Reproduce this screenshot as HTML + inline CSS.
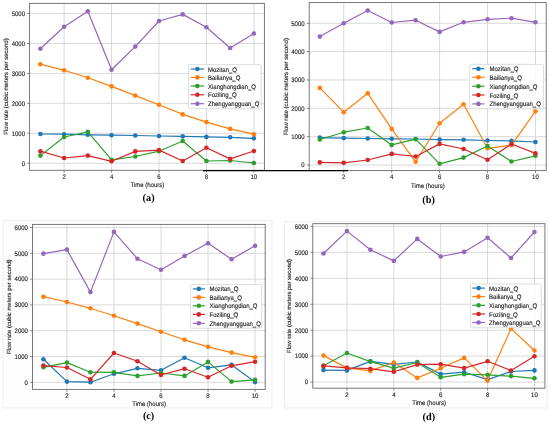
<!DOCTYPE html>
<html><head><meta charset="utf-8"><style>
html,body{margin:0;padding:0;background:#fff;}
svg{display:block;will-change:transform;filter:blur(0.25px);}
text{text-rendering:geometricPrecision;font-family:"Liberation Sans",sans-serif;font-size:6.0px;fill:#1c1c1c;stroke:#1c1c1c;stroke-width:0.12px;}
text.cap{font-family:"Liberation Serif",serif;font-weight:bold;font-size:10.3px;fill:#000;stroke:none;}
</style></head><body>
<svg width="550" height="424" viewBox="0 0 550 424">
<rect width="550" height="424" fill="#fff"/>
<rect x="3" y="220.5" width="269" height="187.5" fill="#fdfdfd" stroke="#ececec" stroke-width="0.8"/>
<rect x="284.5" y="221.8" width="262.7" height="186.2" fill="#fdfdfd" stroke="#ececec" stroke-width="0.8"/>
<rect x="29.6" y="3.4" width="234.8" height="166.9" fill="#fff"/>
<line x1="64.12" y1="3.4" x2="64.12" y2="170.3" stroke="#cfcfcf" stroke-width="0.8"/>
<line x1="111.56" y1="3.4" x2="111.56" y2="170.3" stroke="#cfcfcf" stroke-width="0.8"/>
<line x1="159" y1="3.4" x2="159" y2="170.3" stroke="#cfcfcf" stroke-width="0.8"/>
<line x1="206.44" y1="3.4" x2="206.44" y2="170.3" stroke="#cfcfcf" stroke-width="0.8"/>
<line x1="253.88" y1="3.4" x2="253.88" y2="170.3" stroke="#cfcfcf" stroke-width="0.8"/>
<line x1="29.6" y1="163.2" x2="264.4" y2="163.2" stroke="#cfcfcf" stroke-width="0.8"/>
<line x1="29.6" y1="133.27" x2="264.4" y2="133.27" stroke="#cfcfcf" stroke-width="0.8"/>
<line x1="29.6" y1="103.34" x2="264.4" y2="103.34" stroke="#cfcfcf" stroke-width="0.8"/>
<line x1="29.6" y1="73.41" x2="264.4" y2="73.41" stroke="#cfcfcf" stroke-width="0.8"/>
<line x1="29.6" y1="43.48" x2="264.4" y2="43.48" stroke="#cfcfcf" stroke-width="0.8"/>
<line x1="29.6" y1="13.55" x2="264.4" y2="13.55" stroke="#cfcfcf" stroke-width="0.8"/>
<polyline points="40.4,134 64.12,134.2 87.84,134.8 111.56,135.2 135.28,135.5 159,136 182.72,136.4 206.44,136.9 230.16,137.3 253.88,138.3" fill="none" stroke="#1f77b4" stroke-width="1.2" stroke-linejoin="round"/>
<circle cx="40.4" cy="134" r="2.3" fill="#1f77b4"/>
<circle cx="64.12" cy="134.2" r="2.3" fill="#1f77b4"/>
<circle cx="87.84" cy="134.8" r="2.3" fill="#1f77b4"/>
<circle cx="111.56" cy="135.2" r="2.3" fill="#1f77b4"/>
<circle cx="135.28" cy="135.5" r="2.3" fill="#1f77b4"/>
<circle cx="159" cy="136" r="2.3" fill="#1f77b4"/>
<circle cx="182.72" cy="136.4" r="2.3" fill="#1f77b4"/>
<circle cx="206.44" cy="136.9" r="2.3" fill="#1f77b4"/>
<circle cx="230.16" cy="137.3" r="2.3" fill="#1f77b4"/>
<circle cx="253.88" cy="138.3" r="2.3" fill="#1f77b4"/>
<polyline points="40.4,64.2 64.12,70.3 87.84,77.8 111.56,86.4 135.28,95.6 159,104.8 182.72,114.4 206.44,122.1 230.16,128.9 253.88,134.2" fill="none" stroke="#ff7f0e" stroke-width="1.2" stroke-linejoin="round"/>
<circle cx="40.4" cy="64.2" r="2.3" fill="#ff7f0e"/>
<circle cx="64.12" cy="70.3" r="2.3" fill="#ff7f0e"/>
<circle cx="87.84" cy="77.8" r="2.3" fill="#ff7f0e"/>
<circle cx="111.56" cy="86.4" r="2.3" fill="#ff7f0e"/>
<circle cx="135.28" cy="95.6" r="2.3" fill="#ff7f0e"/>
<circle cx="159" cy="104.8" r="2.3" fill="#ff7f0e"/>
<circle cx="182.72" cy="114.4" r="2.3" fill="#ff7f0e"/>
<circle cx="206.44" cy="122.1" r="2.3" fill="#ff7f0e"/>
<circle cx="230.16" cy="128.9" r="2.3" fill="#ff7f0e"/>
<circle cx="253.88" cy="134.2" r="2.3" fill="#ff7f0e"/>
<polyline points="40.4,155.6 64.12,137 87.84,131.8 111.56,159.9 135.28,156.5 159,151.2 182.72,141 206.44,161 230.16,160.5 253.88,163" fill="none" stroke="#2ca02c" stroke-width="1.2" stroke-linejoin="round"/>
<circle cx="40.4" cy="155.6" r="2.3" fill="#2ca02c"/>
<circle cx="64.12" cy="137" r="2.3" fill="#2ca02c"/>
<circle cx="87.84" cy="131.8" r="2.3" fill="#2ca02c"/>
<circle cx="111.56" cy="159.9" r="2.3" fill="#2ca02c"/>
<circle cx="135.28" cy="156.5" r="2.3" fill="#2ca02c"/>
<circle cx="159" cy="151.2" r="2.3" fill="#2ca02c"/>
<circle cx="182.72" cy="141" r="2.3" fill="#2ca02c"/>
<circle cx="206.44" cy="161" r="2.3" fill="#2ca02c"/>
<circle cx="230.16" cy="160.5" r="2.3" fill="#2ca02c"/>
<circle cx="253.88" cy="163" r="2.3" fill="#2ca02c"/>
<polyline points="40.4,151.2 64.12,158 87.84,155.6 111.56,161.3 135.28,151.4 159,150.1 182.72,161 206.44,147.8 230.16,158.9 253.88,151" fill="none" stroke="#d62728" stroke-width="1.2" stroke-linejoin="round"/>
<circle cx="40.4" cy="151.2" r="2.3" fill="#d62728"/>
<circle cx="64.12" cy="158" r="2.3" fill="#d62728"/>
<circle cx="87.84" cy="155.6" r="2.3" fill="#d62728"/>
<circle cx="111.56" cy="161.3" r="2.3" fill="#d62728"/>
<circle cx="135.28" cy="151.4" r="2.3" fill="#d62728"/>
<circle cx="159" cy="150.1" r="2.3" fill="#d62728"/>
<circle cx="182.72" cy="161" r="2.3" fill="#d62728"/>
<circle cx="206.44" cy="147.8" r="2.3" fill="#d62728"/>
<circle cx="230.16" cy="158.9" r="2.3" fill="#d62728"/>
<circle cx="253.88" cy="151" r="2.3" fill="#d62728"/>
<polyline points="40.4,48.7 64.12,26.7 87.84,11.2 111.56,69.7 135.28,46.6 159,21 182.72,14.4 206.44,27.3 230.16,48 253.88,33.5" fill="none" stroke="#9467bd" stroke-width="1.2" stroke-linejoin="round"/>
<circle cx="40.4" cy="48.7" r="2.3" fill="#9467bd"/>
<circle cx="64.12" cy="26.7" r="2.3" fill="#9467bd"/>
<circle cx="87.84" cy="11.2" r="2.3" fill="#9467bd"/>
<circle cx="111.56" cy="69.7" r="2.3" fill="#9467bd"/>
<circle cx="135.28" cy="46.6" r="2.3" fill="#9467bd"/>
<circle cx="159" cy="21" r="2.3" fill="#9467bd"/>
<circle cx="182.72" cy="14.4" r="2.3" fill="#9467bd"/>
<circle cx="206.44" cy="27.3" r="2.3" fill="#9467bd"/>
<circle cx="230.16" cy="48" r="2.3" fill="#9467bd"/>
<circle cx="253.88" cy="33.5" r="2.3" fill="#9467bd"/>
<rect x="29.6" y="3.4" width="234.8" height="166.9" fill="none" stroke="#6a6a6a" stroke-width="0.9"/>
<line x1="27.2" y1="163.2" x2="29.6" y2="163.2" stroke="#6a6a6a" stroke-width="0.8"/>
<text transform="translate(25,165.5) scale(1,1.1)" text-anchor="end">0</text>
<line x1="27.2" y1="133.27" x2="29.6" y2="133.27" stroke="#6a6a6a" stroke-width="0.8"/>
<text transform="translate(25,135.57) scale(1,1.1)" text-anchor="end">1000</text>
<line x1="27.2" y1="103.34" x2="29.6" y2="103.34" stroke="#6a6a6a" stroke-width="0.8"/>
<text transform="translate(25,105.64) scale(1,1.1)" text-anchor="end">2000</text>
<line x1="27.2" y1="73.41" x2="29.6" y2="73.41" stroke="#6a6a6a" stroke-width="0.8"/>
<text transform="translate(25,75.71) scale(1,1.1)" text-anchor="end">3000</text>
<line x1="27.2" y1="43.48" x2="29.6" y2="43.48" stroke="#6a6a6a" stroke-width="0.8"/>
<text transform="translate(25,45.78) scale(1,1.1)" text-anchor="end">4000</text>
<line x1="27.2" y1="13.55" x2="29.6" y2="13.55" stroke="#6a6a6a" stroke-width="0.8"/>
<text transform="translate(25,15.85) scale(1,1.1)" text-anchor="end">5000</text>
<line x1="64.12" y1="170.3" x2="64.12" y2="172.7" stroke="#6a6a6a" stroke-width="0.8"/>
<text transform="translate(64.12,178.9) scale(1,1.1)" text-anchor="middle">2</text>
<line x1="111.56" y1="170.3" x2="111.56" y2="172.7" stroke="#6a6a6a" stroke-width="0.8"/>
<text transform="translate(111.56,178.9) scale(1,1.1)" text-anchor="middle">4</text>
<line x1="159" y1="170.3" x2="159" y2="172.7" stroke="#6a6a6a" stroke-width="0.8"/>
<text transform="translate(159,178.9) scale(1,1.1)" text-anchor="middle">6</text>
<line x1="206.44" y1="170.3" x2="206.44" y2="172.7" stroke="#6a6a6a" stroke-width="0.8"/>
<text transform="translate(206.44,178.9) scale(1,1.1)" text-anchor="middle">8</text>
<line x1="253.88" y1="170.3" x2="253.88" y2="172.7" stroke="#6a6a6a" stroke-width="0.8"/>
<text transform="translate(253.88,178.9) scale(1,1.1)" text-anchor="middle">10</text>
<rect x="188.6" y="64.6" width="72.6" height="44.1" rx="1.2" fill="#fff" fill-opacity="0.85" stroke="#d0d0d0" stroke-width="0.7"/>
<line x1="190.7" y1="69" x2="204" y2="69" stroke="#1f77b4" stroke-width="1.2"/>
<circle cx="197.35" cy="69" r="2.3" fill="#1f77b4"/>
<text transform="translate(208,71.5) scale(1,1.1)">Mozitan_Q</text>
<line x1="190.7" y1="77.4" x2="204" y2="77.4" stroke="#ff7f0e" stroke-width="1.2"/>
<circle cx="197.35" cy="77.4" r="2.3" fill="#ff7f0e"/>
<text transform="translate(208,79.9) scale(1,1.1)">Bailianya_Q</text>
<line x1="190.7" y1="86" x2="204" y2="86" stroke="#2ca02c" stroke-width="1.2"/>
<circle cx="197.35" cy="86" r="2.3" fill="#2ca02c"/>
<text transform="translate(208,88.5) scale(1,1.1)">Xianghongdian_Q</text>
<line x1="190.7" y1="94.8" x2="204" y2="94.8" stroke="#d62728" stroke-width="1.2"/>
<circle cx="197.35" cy="94.8" r="2.3" fill="#d62728"/>
<text transform="translate(208,97.3) scale(1,1.1)">Foziling_Q</text>
<line x1="190.7" y1="103.7" x2="204" y2="103.7" stroke="#9467bd" stroke-width="1.2"/>
<circle cx="197.35" cy="103.7" r="2.3" fill="#9467bd"/>
<text transform="translate(208,106.2) scale(1,1.1)">Zhengyangguan_Q</text>
<text transform="translate(147.35,186.7) scale(1,1.1)" text-anchor="middle">Time (hours)</text>
<text x="148.6" y="200.6" text-anchor="middle" class="cap">(a)</text>
<text transform="translate(7.8,86.55) rotate(-90)" text-anchor="middle" style="font-size:6.05px">Flow rate (cubic meters per second)</text>
<rect x="309.2" y="2.6" width="237" height="168" fill="#fff"/>
<line x1="343.76" y1="2.6" x2="343.76" y2="170.6" stroke="#cfcfcf" stroke-width="0.8"/>
<line x1="391.68" y1="2.6" x2="391.68" y2="170.6" stroke="#cfcfcf" stroke-width="0.8"/>
<line x1="439.6" y1="2.6" x2="439.6" y2="170.6" stroke="#cfcfcf" stroke-width="0.8"/>
<line x1="487.52" y1="2.6" x2="487.52" y2="170.6" stroke="#cfcfcf" stroke-width="0.8"/>
<line x1="535.44" y1="2.6" x2="535.44" y2="170.6" stroke="#cfcfcf" stroke-width="0.8"/>
<line x1="309.2" y1="165" x2="546.2" y2="165" stroke="#cfcfcf" stroke-width="0.8"/>
<line x1="309.2" y1="136.66" x2="546.2" y2="136.66" stroke="#cfcfcf" stroke-width="0.8"/>
<line x1="309.2" y1="108.32" x2="546.2" y2="108.32" stroke="#cfcfcf" stroke-width="0.8"/>
<line x1="309.2" y1="79.98" x2="546.2" y2="79.98" stroke="#cfcfcf" stroke-width="0.8"/>
<line x1="309.2" y1="51.64" x2="546.2" y2="51.64" stroke="#cfcfcf" stroke-width="0.8"/>
<line x1="309.2" y1="23.3" x2="546.2" y2="23.3" stroke="#cfcfcf" stroke-width="0.8"/>
<polyline points="319.8,137.6 343.76,138.1 367.72,138.5 391.68,138.8 415.64,139 439.6,139.6 463.56,139.8 487.52,140.5 511.48,140.9 535.44,142" fill="none" stroke="#1f77b4" stroke-width="1.2" stroke-linejoin="round"/>
<circle cx="319.8" cy="137.6" r="2.3" fill="#1f77b4"/>
<circle cx="343.76" cy="138.1" r="2.3" fill="#1f77b4"/>
<circle cx="367.72" cy="138.5" r="2.3" fill="#1f77b4"/>
<circle cx="391.68" cy="138.8" r="2.3" fill="#1f77b4"/>
<circle cx="415.64" cy="139" r="2.3" fill="#1f77b4"/>
<circle cx="439.6" cy="139.6" r="2.3" fill="#1f77b4"/>
<circle cx="463.56" cy="139.8" r="2.3" fill="#1f77b4"/>
<circle cx="487.52" cy="140.5" r="2.3" fill="#1f77b4"/>
<circle cx="511.48" cy="140.9" r="2.3" fill="#1f77b4"/>
<circle cx="535.44" cy="142" r="2.3" fill="#1f77b4"/>
<polyline points="319.8,87.9 343.76,112.2 367.72,93.3 391.68,128.9 415.64,161.8 439.6,123.3 463.56,104.2 487.52,148.3 511.48,145.2 535.44,111.3" fill="none" stroke="#ff7f0e" stroke-width="1.2" stroke-linejoin="round"/>
<circle cx="319.8" cy="87.9" r="2.3" fill="#ff7f0e"/>
<circle cx="343.76" cy="112.2" r="2.3" fill="#ff7f0e"/>
<circle cx="367.72" cy="93.3" r="2.3" fill="#ff7f0e"/>
<circle cx="391.68" cy="128.9" r="2.3" fill="#ff7f0e"/>
<circle cx="415.64" cy="161.8" r="2.3" fill="#ff7f0e"/>
<circle cx="439.6" cy="123.3" r="2.3" fill="#ff7f0e"/>
<circle cx="463.56" cy="104.2" r="2.3" fill="#ff7f0e"/>
<circle cx="487.52" cy="148.3" r="2.3" fill="#ff7f0e"/>
<circle cx="511.48" cy="145.2" r="2.3" fill="#ff7f0e"/>
<circle cx="535.44" cy="111.3" r="2.3" fill="#ff7f0e"/>
<polyline points="319.8,139.5 343.76,132.2 367.72,128 391.68,144.9 415.64,139.2 439.6,163.8 463.56,157.6 487.52,146 511.48,161.5 535.44,155.8" fill="none" stroke="#2ca02c" stroke-width="1.2" stroke-linejoin="round"/>
<circle cx="319.8" cy="139.5" r="2.3" fill="#2ca02c"/>
<circle cx="343.76" cy="132.2" r="2.3" fill="#2ca02c"/>
<circle cx="367.72" cy="128" r="2.3" fill="#2ca02c"/>
<circle cx="391.68" cy="144.9" r="2.3" fill="#2ca02c"/>
<circle cx="415.64" cy="139.2" r="2.3" fill="#2ca02c"/>
<circle cx="439.6" cy="163.8" r="2.3" fill="#2ca02c"/>
<circle cx="463.56" cy="157.6" r="2.3" fill="#2ca02c"/>
<circle cx="487.52" cy="146" r="2.3" fill="#2ca02c"/>
<circle cx="511.48" cy="161.5" r="2.3" fill="#2ca02c"/>
<circle cx="535.44" cy="155.8" r="2.3" fill="#2ca02c"/>
<polyline points="319.8,162.4 343.76,162.8 367.72,160 391.68,153.9 415.64,156.5 439.6,143.9 463.56,149 487.52,159.8 511.48,144 535.44,153.4" fill="none" stroke="#d62728" stroke-width="1.2" stroke-linejoin="round"/>
<circle cx="319.8" cy="162.4" r="2.3" fill="#d62728"/>
<circle cx="343.76" cy="162.8" r="2.3" fill="#d62728"/>
<circle cx="367.72" cy="160" r="2.3" fill="#d62728"/>
<circle cx="391.68" cy="153.9" r="2.3" fill="#d62728"/>
<circle cx="415.64" cy="156.5" r="2.3" fill="#d62728"/>
<circle cx="439.6" cy="143.9" r="2.3" fill="#d62728"/>
<circle cx="463.56" cy="149" r="2.3" fill="#d62728"/>
<circle cx="487.52" cy="159.8" r="2.3" fill="#d62728"/>
<circle cx="511.48" cy="144" r="2.3" fill="#d62728"/>
<circle cx="535.44" cy="153.4" r="2.3" fill="#d62728"/>
<polyline points="319.8,36.6 343.76,23.3 367.72,10.5 391.68,22.5 415.64,20.2 439.6,31.9 463.56,22.3 487.52,19.3 511.48,18.2 535.44,22.3" fill="none" stroke="#9467bd" stroke-width="1.2" stroke-linejoin="round"/>
<circle cx="319.8" cy="36.6" r="2.3" fill="#9467bd"/>
<circle cx="343.76" cy="23.3" r="2.3" fill="#9467bd"/>
<circle cx="367.72" cy="10.5" r="2.3" fill="#9467bd"/>
<circle cx="391.68" cy="22.5" r="2.3" fill="#9467bd"/>
<circle cx="415.64" cy="20.2" r="2.3" fill="#9467bd"/>
<circle cx="439.6" cy="31.9" r="2.3" fill="#9467bd"/>
<circle cx="463.56" cy="22.3" r="2.3" fill="#9467bd"/>
<circle cx="487.52" cy="19.3" r="2.3" fill="#9467bd"/>
<circle cx="511.48" cy="18.2" r="2.3" fill="#9467bd"/>
<circle cx="535.44" cy="22.3" r="2.3" fill="#9467bd"/>
<rect x="309.2" y="2.6" width="237" height="168" fill="none" stroke="#6a6a6a" stroke-width="0.9"/>
<line x1="306.8" y1="165" x2="309.2" y2="165" stroke="#6a6a6a" stroke-width="0.8"/>
<text transform="translate(304.6,167.3) scale(1,1.1)" text-anchor="end">0</text>
<line x1="306.8" y1="136.66" x2="309.2" y2="136.66" stroke="#6a6a6a" stroke-width="0.8"/>
<text transform="translate(304.6,138.96) scale(1,1.1)" text-anchor="end">1000</text>
<line x1="306.8" y1="108.32" x2="309.2" y2="108.32" stroke="#6a6a6a" stroke-width="0.8"/>
<text transform="translate(304.6,110.62) scale(1,1.1)" text-anchor="end">2000</text>
<line x1="306.8" y1="79.98" x2="309.2" y2="79.98" stroke="#6a6a6a" stroke-width="0.8"/>
<text transform="translate(304.6,82.28) scale(1,1.1)" text-anchor="end">3000</text>
<line x1="306.8" y1="51.64" x2="309.2" y2="51.64" stroke="#6a6a6a" stroke-width="0.8"/>
<text transform="translate(304.6,53.94) scale(1,1.1)" text-anchor="end">4000</text>
<line x1="306.8" y1="23.3" x2="309.2" y2="23.3" stroke="#6a6a6a" stroke-width="0.8"/>
<text transform="translate(304.6,25.6) scale(1,1.1)" text-anchor="end">5000</text>
<line x1="343.76" y1="170.6" x2="343.76" y2="173" stroke="#6a6a6a" stroke-width="0.8"/>
<text transform="translate(343.76,179.2) scale(1,1.1)" text-anchor="middle">2</text>
<line x1="391.68" y1="170.6" x2="391.68" y2="173" stroke="#6a6a6a" stroke-width="0.8"/>
<text transform="translate(391.68,179.2) scale(1,1.1)" text-anchor="middle">4</text>
<line x1="439.6" y1="170.6" x2="439.6" y2="173" stroke="#6a6a6a" stroke-width="0.8"/>
<text transform="translate(439.6,179.2) scale(1,1.1)" text-anchor="middle">6</text>
<line x1="487.52" y1="170.6" x2="487.52" y2="173" stroke="#6a6a6a" stroke-width="0.8"/>
<text transform="translate(487.52,179.2) scale(1,1.1)" text-anchor="middle">8</text>
<line x1="535.44" y1="170.6" x2="535.44" y2="173" stroke="#6a6a6a" stroke-width="0.8"/>
<text transform="translate(535.44,179.2) scale(1,1.1)" text-anchor="middle">10</text>
<rect x="469.8" y="64.4" width="73.7" height="44.4" rx="1.2" fill="#fff" fill-opacity="0.85" stroke="#d0d0d0" stroke-width="0.7"/>
<line x1="472.3" y1="68.7" x2="484.5" y2="68.7" stroke="#1f77b4" stroke-width="1.2"/>
<circle cx="478.4" cy="68.7" r="2.3" fill="#1f77b4"/>
<text transform="translate(489.5,71.2) scale(1,1.1)">Mozitan_Q</text>
<line x1="472.3" y1="77.3" x2="484.5" y2="77.3" stroke="#ff7f0e" stroke-width="1.2"/>
<circle cx="478.4" cy="77.3" r="2.3" fill="#ff7f0e"/>
<text transform="translate(489.5,79.8) scale(1,1.1)">Bailianya_Q</text>
<line x1="472.3" y1="86.2" x2="484.5" y2="86.2" stroke="#2ca02c" stroke-width="1.2"/>
<circle cx="478.4" cy="86.2" r="2.3" fill="#2ca02c"/>
<text transform="translate(489.5,88.7) scale(1,1.1)">Xianghongdian_Q</text>
<line x1="472.3" y1="95" x2="484.5" y2="95" stroke="#d62728" stroke-width="1.2"/>
<circle cx="478.4" cy="95" r="2.3" fill="#d62728"/>
<text transform="translate(489.5,97.5) scale(1,1.1)">Foziling_Q</text>
<line x1="472.3" y1="103.9" x2="484.5" y2="103.9" stroke="#9467bd" stroke-width="1.2"/>
<circle cx="478.4" cy="103.9" r="2.3" fill="#9467bd"/>
<text transform="translate(489.5,106.4) scale(1,1.1)">Zhengyangguan_Q</text>
<text transform="translate(427.9,187.6) scale(1,1.1)" text-anchor="middle">Time (hours)</text>
<text x="428.6" y="203.2" text-anchor="middle" class="cap">(b)</text>
<text transform="translate(288.1,86.6) rotate(-90)" text-anchor="middle" style="font-size:6.1px">Flow rate (cubic meters per second)</text>
<rect x="32.5" y="224.4" width="232.7" height="165" fill="#fff"/>
<line x1="66.92" y1="224.4" x2="66.92" y2="389.4" stroke="#cfcfcf" stroke-width="0.8"/>
<line x1="113.96" y1="224.4" x2="113.96" y2="389.4" stroke="#cfcfcf" stroke-width="0.8"/>
<line x1="161" y1="224.4" x2="161" y2="389.4" stroke="#cfcfcf" stroke-width="0.8"/>
<line x1="208.04" y1="224.4" x2="208.04" y2="389.4" stroke="#cfcfcf" stroke-width="0.8"/>
<line x1="255.08" y1="224.4" x2="255.08" y2="389.4" stroke="#cfcfcf" stroke-width="0.8"/>
<line x1="32.5" y1="382.3" x2="265.2" y2="382.3" stroke="#cfcfcf" stroke-width="0.8"/>
<line x1="32.5" y1="356.5" x2="265.2" y2="356.5" stroke="#cfcfcf" stroke-width="0.8"/>
<line x1="32.5" y1="330.7" x2="265.2" y2="330.7" stroke="#cfcfcf" stroke-width="0.8"/>
<line x1="32.5" y1="304.9" x2="265.2" y2="304.9" stroke="#cfcfcf" stroke-width="0.8"/>
<line x1="32.5" y1="279.1" x2="265.2" y2="279.1" stroke="#cfcfcf" stroke-width="0.8"/>
<line x1="32.5" y1="253.3" x2="265.2" y2="253.3" stroke="#cfcfcf" stroke-width="0.8"/>
<line x1="32.5" y1="227.5" x2="265.2" y2="227.5" stroke="#cfcfcf" stroke-width="0.8"/>
<polyline points="43.4,359.2 66.92,381.6 90.44,382.2 113.96,373.8 137.48,368.3 161,370.3 184.52,357.7 208.04,367.8 231.56,364.9 255.08,382.1" fill="none" stroke="#1f77b4" stroke-width="1.2" stroke-linejoin="round"/>
<circle cx="43.4" cy="359.2" r="2.3" fill="#1f77b4"/>
<circle cx="66.92" cy="381.6" r="2.3" fill="#1f77b4"/>
<circle cx="90.44" cy="382.2" r="2.3" fill="#1f77b4"/>
<circle cx="113.96" cy="373.8" r="2.3" fill="#1f77b4"/>
<circle cx="137.48" cy="368.3" r="2.3" fill="#1f77b4"/>
<circle cx="161" cy="370.3" r="2.3" fill="#1f77b4"/>
<circle cx="184.52" cy="357.7" r="2.3" fill="#1f77b4"/>
<circle cx="208.04" cy="367.8" r="2.3" fill="#1f77b4"/>
<circle cx="231.56" cy="364.9" r="2.3" fill="#1f77b4"/>
<circle cx="255.08" cy="382.1" r="2.3" fill="#1f77b4"/>
<polyline points="43.4,296.7 66.92,302 90.44,308.3 113.96,315.8 137.48,323.6 161,331.7 184.52,339.8 208.04,346.8 231.56,352.6 255.08,357.3" fill="none" stroke="#ff7f0e" stroke-width="1.2" stroke-linejoin="round"/>
<circle cx="43.4" cy="296.7" r="2.3" fill="#ff7f0e"/>
<circle cx="66.92" cy="302" r="2.3" fill="#ff7f0e"/>
<circle cx="90.44" cy="308.3" r="2.3" fill="#ff7f0e"/>
<circle cx="113.96" cy="315.8" r="2.3" fill="#ff7f0e"/>
<circle cx="137.48" cy="323.6" r="2.3" fill="#ff7f0e"/>
<circle cx="161" cy="331.7" r="2.3" fill="#ff7f0e"/>
<circle cx="184.52" cy="339.8" r="2.3" fill="#ff7f0e"/>
<circle cx="208.04" cy="346.8" r="2.3" fill="#ff7f0e"/>
<circle cx="231.56" cy="352.6" r="2.3" fill="#ff7f0e"/>
<circle cx="255.08" cy="357.3" r="2.3" fill="#ff7f0e"/>
<polyline points="43.4,367.3 66.92,362.6 90.44,372.2 113.96,372.3 137.48,375.9 161,373 184.52,375.9 208.04,361.9 231.56,381.6 255.08,379.9" fill="none" stroke="#2ca02c" stroke-width="1.2" stroke-linejoin="round"/>
<circle cx="43.4" cy="367.3" r="2.3" fill="#2ca02c"/>
<circle cx="66.92" cy="362.6" r="2.3" fill="#2ca02c"/>
<circle cx="90.44" cy="372.2" r="2.3" fill="#2ca02c"/>
<circle cx="113.96" cy="372.3" r="2.3" fill="#2ca02c"/>
<circle cx="137.48" cy="375.9" r="2.3" fill="#2ca02c"/>
<circle cx="161" cy="373" r="2.3" fill="#2ca02c"/>
<circle cx="184.52" cy="375.9" r="2.3" fill="#2ca02c"/>
<circle cx="208.04" cy="361.9" r="2.3" fill="#2ca02c"/>
<circle cx="231.56" cy="381.6" r="2.3" fill="#2ca02c"/>
<circle cx="255.08" cy="379.9" r="2.3" fill="#2ca02c"/>
<polyline points="43.4,365.6 66.92,367.5 90.44,379.3 113.96,353 137.48,361.3 161,375 184.52,368.7 208.04,377.3 231.56,365.8 255.08,361.7" fill="none" stroke="#d62728" stroke-width="1.2" stroke-linejoin="round"/>
<circle cx="43.4" cy="365.6" r="2.3" fill="#d62728"/>
<circle cx="66.92" cy="367.5" r="2.3" fill="#d62728"/>
<circle cx="90.44" cy="379.3" r="2.3" fill="#d62728"/>
<circle cx="113.96" cy="353" r="2.3" fill="#d62728"/>
<circle cx="137.48" cy="361.3" r="2.3" fill="#d62728"/>
<circle cx="161" cy="375" r="2.3" fill="#d62728"/>
<circle cx="184.52" cy="368.7" r="2.3" fill="#d62728"/>
<circle cx="208.04" cy="377.3" r="2.3" fill="#d62728"/>
<circle cx="231.56" cy="365.8" r="2.3" fill="#d62728"/>
<circle cx="255.08" cy="361.7" r="2.3" fill="#d62728"/>
<polyline points="43.4,253.6 66.92,249.6 90.44,292.1 113.96,231.9 137.48,258.8 161,269.8 184.52,256 208.04,243.3 231.56,259.3 255.08,245.8" fill="none" stroke="#9467bd" stroke-width="1.2" stroke-linejoin="round"/>
<circle cx="43.4" cy="253.6" r="2.3" fill="#9467bd"/>
<circle cx="66.92" cy="249.6" r="2.3" fill="#9467bd"/>
<circle cx="90.44" cy="292.1" r="2.3" fill="#9467bd"/>
<circle cx="113.96" cy="231.9" r="2.3" fill="#9467bd"/>
<circle cx="137.48" cy="258.8" r="2.3" fill="#9467bd"/>
<circle cx="161" cy="269.8" r="2.3" fill="#9467bd"/>
<circle cx="184.52" cy="256" r="2.3" fill="#9467bd"/>
<circle cx="208.04" cy="243.3" r="2.3" fill="#9467bd"/>
<circle cx="231.56" cy="259.3" r="2.3" fill="#9467bd"/>
<circle cx="255.08" cy="245.8" r="2.3" fill="#9467bd"/>
<rect x="32.5" y="224.4" width="232.7" height="165" fill="none" stroke="#6a6a6a" stroke-width="0.9"/>
<line x1="30.1" y1="382.3" x2="32.5" y2="382.3" stroke="#6a6a6a" stroke-width="0.8"/>
<text transform="translate(27.9,384.6) scale(1,1.1)" text-anchor="end">0</text>
<line x1="30.1" y1="356.5" x2="32.5" y2="356.5" stroke="#6a6a6a" stroke-width="0.8"/>
<text transform="translate(27.9,358.8) scale(1,1.1)" text-anchor="end">1000</text>
<line x1="30.1" y1="330.7" x2="32.5" y2="330.7" stroke="#6a6a6a" stroke-width="0.8"/>
<text transform="translate(27.9,333) scale(1,1.1)" text-anchor="end">2000</text>
<line x1="30.1" y1="304.9" x2="32.5" y2="304.9" stroke="#6a6a6a" stroke-width="0.8"/>
<text transform="translate(27.9,307.2) scale(1,1.1)" text-anchor="end">3000</text>
<line x1="30.1" y1="279.1" x2="32.5" y2="279.1" stroke="#6a6a6a" stroke-width="0.8"/>
<text transform="translate(27.9,281.4) scale(1,1.1)" text-anchor="end">4000</text>
<line x1="30.1" y1="253.3" x2="32.5" y2="253.3" stroke="#6a6a6a" stroke-width="0.8"/>
<text transform="translate(27.9,255.6) scale(1,1.1)" text-anchor="end">5000</text>
<line x1="30.1" y1="227.5" x2="32.5" y2="227.5" stroke="#6a6a6a" stroke-width="0.8"/>
<text transform="translate(27.9,229.8) scale(1,1.1)" text-anchor="end">6000</text>
<line x1="66.92" y1="389.4" x2="66.92" y2="391.8" stroke="#6a6a6a" stroke-width="0.8"/>
<text transform="translate(66.92,398) scale(1,1.1)" text-anchor="middle">2</text>
<line x1="113.96" y1="389.4" x2="113.96" y2="391.8" stroke="#6a6a6a" stroke-width="0.8"/>
<text transform="translate(113.96,398) scale(1,1.1)" text-anchor="middle">4</text>
<line x1="161" y1="389.4" x2="161" y2="391.8" stroke="#6a6a6a" stroke-width="0.8"/>
<text transform="translate(161,398) scale(1,1.1)" text-anchor="middle">6</text>
<line x1="208.04" y1="389.4" x2="208.04" y2="391.8" stroke="#6a6a6a" stroke-width="0.8"/>
<text transform="translate(208.04,398) scale(1,1.1)" text-anchor="middle">8</text>
<line x1="255.08" y1="389.4" x2="255.08" y2="391.8" stroke="#6a6a6a" stroke-width="0.8"/>
<text transform="translate(255.08,398) scale(1,1.1)" text-anchor="middle">10</text>
<rect x="190.6" y="284.5" width="71.2" height="43.7" rx="1.2" fill="#fff" fill-opacity="0.85" stroke="#d0d0d0" stroke-width="0.7"/>
<line x1="192.8" y1="288.9" x2="204.9" y2="288.9" stroke="#1f77b4" stroke-width="1.2"/>
<circle cx="198.85" cy="288.9" r="2.3" fill="#1f77b4"/>
<text transform="translate(209.5,291.4) scale(1,1.1)">Mozitan_Q</text>
<line x1="192.8" y1="297.4" x2="204.9" y2="297.4" stroke="#ff7f0e" stroke-width="1.2"/>
<circle cx="198.85" cy="297.4" r="2.3" fill="#ff7f0e"/>
<text transform="translate(209.5,299.9) scale(1,1.1)">Bailianya_Q</text>
<line x1="192.8" y1="305.8" x2="204.9" y2="305.8" stroke="#2ca02c" stroke-width="1.2"/>
<circle cx="198.85" cy="305.8" r="2.3" fill="#2ca02c"/>
<text transform="translate(209.5,308.3) scale(1,1.1)">Xianghongdian_Q</text>
<line x1="192.8" y1="314.4" x2="204.9" y2="314.4" stroke="#d62728" stroke-width="1.2"/>
<circle cx="198.85" cy="314.4" r="2.3" fill="#d62728"/>
<text transform="translate(209.5,316.9) scale(1,1.1)">Foziling_Q</text>
<line x1="192.8" y1="323.3" x2="204.9" y2="323.3" stroke="#9467bd" stroke-width="1.2"/>
<circle cx="198.85" cy="323.3" r="2.3" fill="#9467bd"/>
<text transform="translate(209.5,325.8) scale(1,1.1)">Zhengyangguan_Q</text>
<text transform="translate(149.1,405.7) scale(1,1.1)" text-anchor="middle">Time (hours)</text>
<text x="148.6" y="418.9" text-anchor="middle" class="cap">(c)</text>
<text transform="translate(11.4,306.8) rotate(-90)" text-anchor="middle" style="font-size:5.95px">Flow rate (cubic meters per second)</text>
<rect x="312.8" y="223.7" width="232.1" height="164.5" fill="#fff"/>
<line x1="346.94" y1="223.7" x2="346.94" y2="388.2" stroke="#cfcfcf" stroke-width="0.8"/>
<line x1="393.82" y1="223.7" x2="393.82" y2="388.2" stroke="#cfcfcf" stroke-width="0.8"/>
<line x1="440.7" y1="223.7" x2="440.7" y2="388.2" stroke="#cfcfcf" stroke-width="0.8"/>
<line x1="487.58" y1="223.7" x2="487.58" y2="388.2" stroke="#cfcfcf" stroke-width="0.8"/>
<line x1="534.46" y1="223.7" x2="534.46" y2="388.2" stroke="#cfcfcf" stroke-width="0.8"/>
<line x1="312.8" y1="382.1" x2="544.9" y2="382.1" stroke="#cfcfcf" stroke-width="0.8"/>
<line x1="312.8" y1="356.15" x2="544.9" y2="356.15" stroke="#cfcfcf" stroke-width="0.8"/>
<line x1="312.8" y1="330.2" x2="544.9" y2="330.2" stroke="#cfcfcf" stroke-width="0.8"/>
<line x1="312.8" y1="304.25" x2="544.9" y2="304.25" stroke="#cfcfcf" stroke-width="0.8"/>
<line x1="312.8" y1="278.3" x2="544.9" y2="278.3" stroke="#cfcfcf" stroke-width="0.8"/>
<line x1="312.8" y1="252.35" x2="544.9" y2="252.35" stroke="#cfcfcf" stroke-width="0.8"/>
<line x1="312.8" y1="226.4" x2="544.9" y2="226.4" stroke="#cfcfcf" stroke-width="0.8"/>
<polyline points="323.5,370.1 346.94,370.4 370.38,361.4 393.82,364.4 417.26,362 440.7,374.1 464.14,372.2 487.58,379.6 511.02,371.5 534.46,370.4" fill="none" stroke="#1f77b4" stroke-width="1.2" stroke-linejoin="round"/>
<circle cx="323.5" cy="370.1" r="2.3" fill="#1f77b4"/>
<circle cx="346.94" cy="370.4" r="2.3" fill="#1f77b4"/>
<circle cx="370.38" cy="361.4" r="2.3" fill="#1f77b4"/>
<circle cx="393.82" cy="364.4" r="2.3" fill="#1f77b4"/>
<circle cx="417.26" cy="362" r="2.3" fill="#1f77b4"/>
<circle cx="440.7" cy="374.1" r="2.3" fill="#1f77b4"/>
<circle cx="464.14" cy="372.2" r="2.3" fill="#1f77b4"/>
<circle cx="487.58" cy="379.6" r="2.3" fill="#1f77b4"/>
<circle cx="511.02" cy="371.5" r="2.3" fill="#1f77b4"/>
<circle cx="534.46" cy="370.4" r="2.3" fill="#1f77b4"/>
<polyline points="323.5,355.6 346.94,367.9 370.38,370.9 393.82,362.5 417.26,377.9 440.7,368.3 464.14,357.9 487.58,380.6 511.02,328.6 534.46,350.5" fill="none" stroke="#ff7f0e" stroke-width="1.2" stroke-linejoin="round"/>
<circle cx="323.5" cy="355.6" r="2.3" fill="#ff7f0e"/>
<circle cx="346.94" cy="367.9" r="2.3" fill="#ff7f0e"/>
<circle cx="370.38" cy="370.9" r="2.3" fill="#ff7f0e"/>
<circle cx="393.82" cy="362.5" r="2.3" fill="#ff7f0e"/>
<circle cx="417.26" cy="377.9" r="2.3" fill="#ff7f0e"/>
<circle cx="440.7" cy="368.3" r="2.3" fill="#ff7f0e"/>
<circle cx="464.14" cy="357.9" r="2.3" fill="#ff7f0e"/>
<circle cx="487.58" cy="380.6" r="2.3" fill="#ff7f0e"/>
<circle cx="511.02" cy="328.6" r="2.3" fill="#ff7f0e"/>
<circle cx="534.46" cy="350.5" r="2.3" fill="#ff7f0e"/>
<polyline points="323.5,365.8 346.94,353 370.38,361.6 393.82,368.2 417.26,362.5 440.7,377.3 464.14,374.2 487.58,374.8 511.02,376.1 534.46,378.3" fill="none" stroke="#2ca02c" stroke-width="1.2" stroke-linejoin="round"/>
<circle cx="323.5" cy="365.8" r="2.3" fill="#2ca02c"/>
<circle cx="346.94" cy="353" r="2.3" fill="#2ca02c"/>
<circle cx="370.38" cy="361.6" r="2.3" fill="#2ca02c"/>
<circle cx="393.82" cy="368.2" r="2.3" fill="#2ca02c"/>
<circle cx="417.26" cy="362.5" r="2.3" fill="#2ca02c"/>
<circle cx="440.7" cy="377.3" r="2.3" fill="#2ca02c"/>
<circle cx="464.14" cy="374.2" r="2.3" fill="#2ca02c"/>
<circle cx="487.58" cy="374.8" r="2.3" fill="#2ca02c"/>
<circle cx="511.02" cy="376.1" r="2.3" fill="#2ca02c"/>
<circle cx="534.46" cy="378.3" r="2.3" fill="#2ca02c"/>
<polyline points="323.5,365.9 346.94,367.9 370.38,368.7 393.82,371.8 417.26,364.6 440.7,364.2 464.14,368.1 487.58,361.3 511.02,370.5 534.46,356.3" fill="none" stroke="#d62728" stroke-width="1.2" stroke-linejoin="round"/>
<circle cx="323.5" cy="365.9" r="2.3" fill="#d62728"/>
<circle cx="346.94" cy="367.9" r="2.3" fill="#d62728"/>
<circle cx="370.38" cy="368.7" r="2.3" fill="#d62728"/>
<circle cx="393.82" cy="371.8" r="2.3" fill="#d62728"/>
<circle cx="417.26" cy="364.6" r="2.3" fill="#d62728"/>
<circle cx="440.7" cy="364.2" r="2.3" fill="#d62728"/>
<circle cx="464.14" cy="368.1" r="2.3" fill="#d62728"/>
<circle cx="487.58" cy="361.3" r="2.3" fill="#d62728"/>
<circle cx="511.02" cy="370.5" r="2.3" fill="#d62728"/>
<circle cx="534.46" cy="356.3" r="2.3" fill="#d62728"/>
<polyline points="323.5,253.5 346.94,231.1 370.38,249.7 393.82,260.9 417.26,238.9 440.7,256.5 464.14,251.9 487.58,237.7 511.02,258 534.46,232" fill="none" stroke="#9467bd" stroke-width="1.2" stroke-linejoin="round"/>
<circle cx="323.5" cy="253.5" r="2.3" fill="#9467bd"/>
<circle cx="346.94" cy="231.1" r="2.3" fill="#9467bd"/>
<circle cx="370.38" cy="249.7" r="2.3" fill="#9467bd"/>
<circle cx="393.82" cy="260.9" r="2.3" fill="#9467bd"/>
<circle cx="417.26" cy="238.9" r="2.3" fill="#9467bd"/>
<circle cx="440.7" cy="256.5" r="2.3" fill="#9467bd"/>
<circle cx="464.14" cy="251.9" r="2.3" fill="#9467bd"/>
<circle cx="487.58" cy="237.7" r="2.3" fill="#9467bd"/>
<circle cx="511.02" cy="258" r="2.3" fill="#9467bd"/>
<circle cx="534.46" cy="232" r="2.3" fill="#9467bd"/>
<rect x="312.8" y="223.7" width="232.1" height="164.5" fill="none" stroke="#6a6a6a" stroke-width="0.9"/>
<line x1="310.4" y1="382.1" x2="312.8" y2="382.1" stroke="#6a6a6a" stroke-width="0.8"/>
<text transform="translate(308.2,384.4) scale(1,1.1)" text-anchor="end">0</text>
<line x1="310.4" y1="356.15" x2="312.8" y2="356.15" stroke="#6a6a6a" stroke-width="0.8"/>
<text transform="translate(308.2,358.45) scale(1,1.1)" text-anchor="end">1000</text>
<line x1="310.4" y1="330.2" x2="312.8" y2="330.2" stroke="#6a6a6a" stroke-width="0.8"/>
<text transform="translate(308.2,332.5) scale(1,1.1)" text-anchor="end">2000</text>
<line x1="310.4" y1="304.25" x2="312.8" y2="304.25" stroke="#6a6a6a" stroke-width="0.8"/>
<text transform="translate(308.2,306.55) scale(1,1.1)" text-anchor="end">3000</text>
<line x1="310.4" y1="278.3" x2="312.8" y2="278.3" stroke="#6a6a6a" stroke-width="0.8"/>
<text transform="translate(308.2,280.6) scale(1,1.1)" text-anchor="end">4000</text>
<line x1="310.4" y1="252.35" x2="312.8" y2="252.35" stroke="#6a6a6a" stroke-width="0.8"/>
<text transform="translate(308.2,254.65) scale(1,1.1)" text-anchor="end">5000</text>
<line x1="310.4" y1="226.4" x2="312.8" y2="226.4" stroke="#6a6a6a" stroke-width="0.8"/>
<text transform="translate(308.2,228.7) scale(1,1.1)" text-anchor="end">6000</text>
<line x1="346.94" y1="388.2" x2="346.94" y2="390.6" stroke="#6a6a6a" stroke-width="0.8"/>
<text transform="translate(346.94,396.8) scale(1,1.1)" text-anchor="middle">2</text>
<line x1="393.82" y1="388.2" x2="393.82" y2="390.6" stroke="#6a6a6a" stroke-width="0.8"/>
<text transform="translate(393.82,396.8) scale(1,1.1)" text-anchor="middle">4</text>
<line x1="440.7" y1="388.2" x2="440.7" y2="390.6" stroke="#6a6a6a" stroke-width="0.8"/>
<text transform="translate(440.7,396.8) scale(1,1.1)" text-anchor="middle">6</text>
<line x1="487.58" y1="388.2" x2="487.58" y2="390.6" stroke="#6a6a6a" stroke-width="0.8"/>
<text transform="translate(487.58,396.8) scale(1,1.1)" text-anchor="middle">8</text>
<line x1="534.46" y1="388.2" x2="534.46" y2="390.6" stroke="#6a6a6a" stroke-width="0.8"/>
<text transform="translate(534.46,396.8) scale(1,1.1)" text-anchor="middle">10</text>
<rect x="470.6" y="284" width="70.7" height="43.7" rx="1.2" fill="#fff" fill-opacity="0.85" stroke="#d0d0d0" stroke-width="0.7"/>
<line x1="472.3" y1="288.1" x2="484.9" y2="288.1" stroke="#1f77b4" stroke-width="1.2"/>
<circle cx="478.6" cy="288.1" r="2.3" fill="#1f77b4"/>
<text transform="translate(489.1,290.6) scale(1,1.1)">Mozitan_Q</text>
<line x1="472.3" y1="296.6" x2="484.9" y2="296.6" stroke="#ff7f0e" stroke-width="1.2"/>
<circle cx="478.6" cy="296.6" r="2.3" fill="#ff7f0e"/>
<text transform="translate(489.1,299.1) scale(1,1.1)">Bailianya_Q</text>
<line x1="472.3" y1="305.3" x2="484.9" y2="305.3" stroke="#2ca02c" stroke-width="1.2"/>
<circle cx="478.6" cy="305.3" r="2.3" fill="#2ca02c"/>
<text transform="translate(489.1,307.8) scale(1,1.1)">Xianghongdian_Q</text>
<line x1="472.3" y1="314" x2="484.9" y2="314" stroke="#d62728" stroke-width="1.2"/>
<circle cx="478.6" cy="314" r="2.3" fill="#d62728"/>
<text transform="translate(489.1,316.5) scale(1,1.1)">Foziling_Q</text>
<line x1="472.3" y1="322.5" x2="484.9" y2="322.5" stroke="#9467bd" stroke-width="1.2"/>
<circle cx="478.6" cy="322.5" r="2.3" fill="#9467bd"/>
<text transform="translate(489.1,325) scale(1,1.1)">Zhengyangguan_Q</text>
<text transform="translate(429.1,405) scale(1,1.1)" text-anchor="middle">Time (hours)</text>
<text x="428.8" y="419.6" text-anchor="middle" class="cap">(d)</text>
<text transform="translate(291.4,305.9) rotate(-90)" text-anchor="middle" style="font-size:5.9px">Flow rate (cubic meters per second)</text>
<line x1="203" y1="170.6" x2="348" y2="170.6" stroke="#000" stroke-width="1.4"/>
</svg>
</body></html>
